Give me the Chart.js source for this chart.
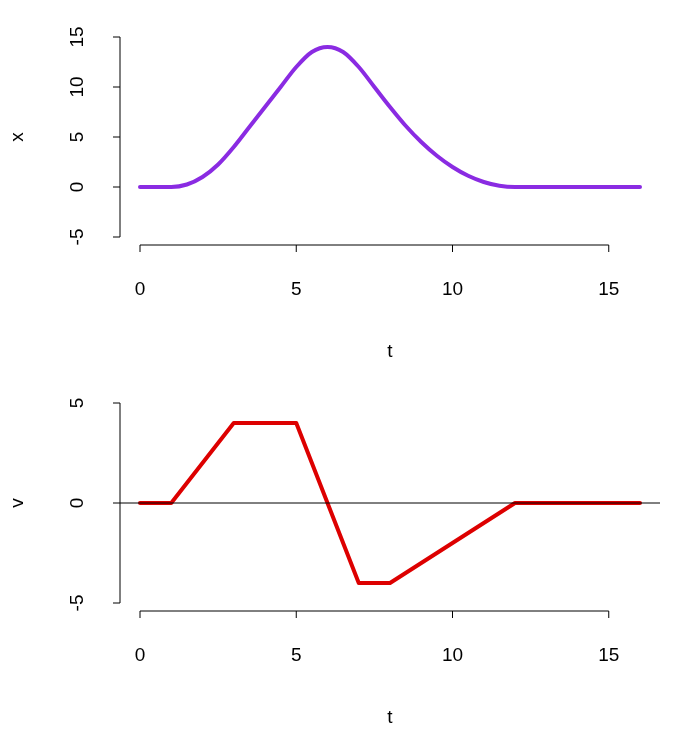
<!DOCTYPE html>
<html><head><meta charset="utf-8">
<script src="https://cdn.jsdelivr.net/npm/chart.js@4"></script>
<style>body{margin:0;background:#fff}canvas{display:block}</style>
</head><body>
<div style="position:absolute;left:0;top:0;width:689px;height:365px"><canvas id="c1"></canvas></div>
<div style="position:absolute;left:0;top:365px;width:689px;height:366px"><canvas id="c2"></canvas></div>
<script>
const tX = [0,0.5,1,1.5,2,2.5,3,3.5,4,4.5,5,5.5,6,6.5,7,7.5,8,8.5,9,9.5,10,10.5,11,11.5,12,12.5,13,13.5,14,14.5,15,15.5,16];
const xVals = [0,0,0,0.25,1,2.25,4,6,8,10,12,13.5,14,13.5,12,10,8,6.125,4.5,3.125,2,1.125,0.5,0.125,0,0,0,0,0,0,0,0,0];
const tV = [0,1,3,5,7,8,12,16];
const vVals = [0,0,4,4,-4,-4,0,0];
const tTicks = [0,5,10,15];
const xTicks = [-5,0,5,10,15];
const vTicks = [-5,0,5];

function rAxes(xt, yt, ylab, hline){
  return {id:'raxes', afterDraw(ch){
    const c=ch.ctx, a=ch.chartArea, sx=ch.scales.x, sy=ch.scales.y;
    c.save(); c.strokeStyle='#000'; c.fillStyle='#000'; c.lineWidth=1;
    c.font='19px "Liberation Sans", Arial, sans-serif';
    const yb=a.bottom, xl=a.left;
    c.beginPath(); c.moveTo(sx.getPixelForValue(xt[0]),yb); c.lineTo(sx.getPixelForValue(xt[xt.length-1]),yb);
    xt.forEach(v=>{const p=sx.getPixelForValue(v); c.moveTo(p,yb); c.lineTo(p,yb+7);});
    c.moveTo(xl,sy.getPixelForValue(yt[0])); c.lineTo(xl,sy.getPixelForValue(yt[yt.length-1]));
    yt.forEach(v=>{const p=sy.getPixelForValue(v); c.moveTo(xl,p); c.lineTo(xl-7,p);});
    if(hline){const p=sy.getPixelForValue(0); c.moveTo(a.left,p); c.lineTo(a.right,p);}
    c.stroke();
    c.textAlign='center'; c.textBaseline='middle';
    xt.forEach(v=>c.fillText(String(v), sx.getPixelForValue(v), yb+45));
    c.fillText('t', (a.left+a.right)/2, yb+107);
    yt.forEach(v=>{c.save(); c.translate(xl-42, sy.getPixelForValue(v)); c.rotate(-Math.PI/2); c.fillText(String(v),0,0); c.restore();});
    c.save(); c.translate(18,(sy.getPixelForValue(yt[0])+sy.getPixelForValue(yt[yt.length-1]))/2); c.rotate(-Math.PI/2); c.fillText(ylab,0,0); c.restore();
    c.restore();
  }};
}
function mk(id, tx, ys, color, ymin, ymax, pad, xt, yt, ylab, hline, smooth){
  new Chart(document.getElementById(id), {
    type:'line',
    data:{datasets:[{data:tx.map((t,i)=>({x:t,y:ys[i]})), borderColor:color, borderWidth:4, pointRadius:0,
      cubicInterpolationMode: smooth?'monotone':'default', tension:0, borderCapStyle:'round', borderJoinStyle:'round'}]},
    options:{responsive:true, maintainAspectRatio:false, animation:false,
      layout:{padding:pad},
      plugins:{legend:{display:false}, tooltip:{enabled:false}},
      scales:{x:{type:'linear',display:false,min:-0.64,max:16.64}, y:{display:false,min:ymin,max:ymax}}},
    plugins:[rAxes(xt,yt,ylab,hline)]
  });
}
mk('c1', tX, xVals, '#8A2BE2', -5.8, 15.8, {left:120,right:29,top:29,bottom:120}, tTicks, xTicks, 'x', false, true);
mk('c2', tV, vVals, '#DD0000', -5.4, 5.4, {left:120,right:29,top:30,bottom:120}, tTicks, vTicks, 'v', true, false);
</script>
</body></html>
